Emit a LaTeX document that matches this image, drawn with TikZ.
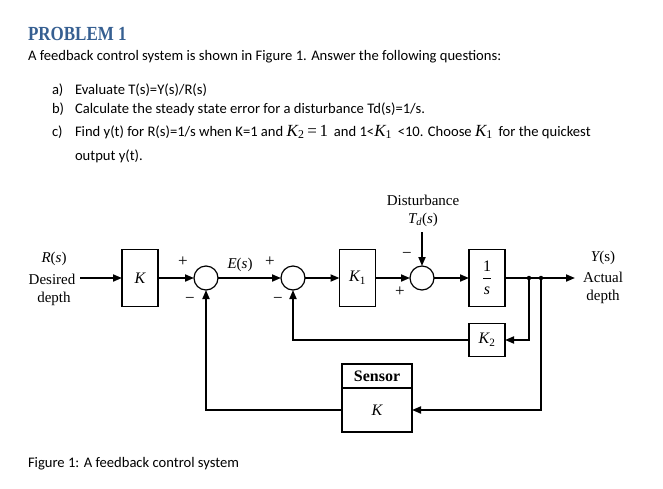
\documentclass[tikz,border=0pt]{standalone}
\usepackage{fontspec}
\usepackage{amsmath}
\setmainfont{Carlito}
\newfontfamily\tms{Liberation Serif}
\usetikzlibrary{arrows.meta}
\usetikzlibrary{positioning}
\definecolor{headblue}{HTML}{365F91}

\begin{document}
\begin{tikzpicture}[x=1pt,y=-1pt]
		\tikzstyle{every node}=[inner sep=0pt, outer sep=0pt];
		\tikzstyle{txt}=[anchor=base west, font=\fontsize{14.6}{17}\selectfont];
		\tikzstyle{lbl}=[font=\tms\fontsize{15}{17}\selectfont];
		\tikzstyle{block}=[draw, line width=1.2pt, minimum width=36pt, minimum height=57pt, font=\tms\fontsize{16}{18}\selectfont];
		\tikzstyle{sum}=[draw, circle, line width=1.2pt, minimum size=24pt];
		\tikzstyle{sig}=[line width=1.8pt, -{Triangle[length=9pt,width=7pt]}];
		\tikzstyle{dot}=[fill, circle, minimum size=4.5pt];
		\useasboundingbox (0,0) rectangle (663,488);
		% problem text
		\path (28,40) node[txt, xscale=0.85, font=\tms\bfseries\fontsize{20}{22}\selectfont, text=headblue] (title) {PROBLEM 1};
		\path (28,60) node[txt] (intro) {A feedback control system is shown in Figure 1. Answer the following questions:};
		\path (52,94) node[txt] (qa) {a)};
		\path (75,94) node[txt] (qatext) {Evaluate T(s)=Y(s)/R(s)};
		\path (52,113) node[txt] (qb) {b)};
		\path (75,113) node[txt] (qbtext) {Calculate the steady state error for a disturbance Td(s)=1/s.};
		\path (52,136) node[txt] (qc) {c)};
		\path (75,136) node[txt] (qctext) {Find y(t) for R(s)=1/s when K=1 and
			{\tms\fontsize{17}{18}\selectfont\itshape K\upshape\textsubscript{2}\,=\,1}\, and 1<{\tms\fontsize{17}{18}\selectfont\itshape K\upshape\textsubscript{1}}\,
			<10. Choose {\tms\fontsize{17}{18}\selectfont\itshape K\upshape\textsubscript{1}}\, for the quickest};
		\path (75,160) node[txt] (qcmore) {output y(t).};
		% blocks
		\path (140,278) node[block] (K) {\itshape K};
		\path (206,278) node[sum] (s1) {};
		\path (293,278) node[sum] (s2) {};
		\path (357.5,278) node[block] (K1) {\itshape K\upshape\textsubscript{1}};
		\path (422,278) node[sum] (s3) {};
		\path (487,278) node[block] (int) {$\dfrac{\text{1}}{\text{\itshape s}}$};
		\path (487,340) node[block, minimum height=33pt] (K2) {\itshape K\upshape\textsubscript{2}};
		\path (377,376) node[block, minimum width=70pt, minimum height=24pt, font=\tms\bfseries\fontsize{16}{18}\selectfont] (senlbl) {Sensor};
		\path (377,410) node[block, minimum width=70pt, minimum height=44pt] (senK) {\itshape K};
		% labels
		\path (54,259) node[lbl] (rlbl) {\itshape R\upshape(\itshape s\upshape)};
		\path (52,279) node[lbl] (rdes) {Desired};
		\path (54,299) node[lbl] (rdep) {depth};
		\path (603,258) node[lbl] (ylbl) {\itshape Y\upshape(s)};
		\path (603,277) node[lbl] (yact) {Actual};
		\path (603,297) node[lbl] (ydep) {depth};
		\path (423,200) node[lbl] (dlbl) {Disturbance};
		\path (423,220) node[lbl] (tdlbl) {\itshape T\textsubscript{d}\upshape(\itshape s\upshape)};
		\path (240,265) node[lbl] (elbl) {\itshape E\upshape(\itshape s\upshape)};
		\path (183,262) node[lbl, font=\tms\fontsize{17}{18}\selectfont] (p1) {+};
		\path (190,300) node[lbl, font=\tms\fontsize{17}{18}\selectfont] (m1) {\textminus};
		\path (270,262) node[lbl, font=\tms\fontsize{17}{18}\selectfont] (p2) {+};
		\path (278,300) node[lbl, font=\tms\fontsize{17}{18}\selectfont] (m2) {\textminus};
		\path (407,255) node[lbl, font=\tms\fontsize{17}{18}\selectfont] (m3) {\textminus};
		\path (400,292) node[lbl, font=\tms\fontsize{17}{18}\selectfont] (p3) {+};
		% connectors
		\coordinate (in) at (80,278);
		\coordinate (out) at (575,278);
		\coordinate (dist) at (422,232);
		\coordinate (b1) at (529,278);
		\coordinate (b2) at (541,278);
		\draw[sig] (in) -- (K);
		\draw[sig] (K) -- (s1);
		\draw[sig] (s1) -- (s2);
		\draw[sig] (s2) -- (K1);
		\draw[sig] (K1) -- (s3);
		\draw[sig] (s3) -- (int);
		\draw[sig] (int) -- (out);
		\draw[sig] (dist) -- (s3);
		\draw[sig] (b1) |- (K2);
		\draw[sig] (K2) -| (s2);
		\draw[sig] (b2) |- (senK);
		\draw[sig] (senK) -| (s1);
		\path (b1) node[dot] (d1) {};
		\path (b2) node[dot] (d2) {};
		% caption
		\path (28,467) node[txt] (caption) {Figure 1: A feedback control system};
\end{tikzpicture}
\end{document}
